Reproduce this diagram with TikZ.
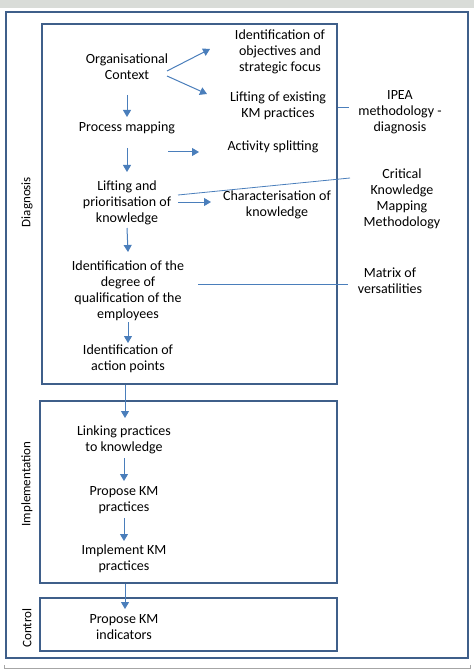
\documentclass[tikz,border=0pt]{standalone}
\usepackage{fontspec}
\setmainfont{Carlito}
\usetikzlibrary{arrows.meta,calc}
\definecolor{boxc}{HTML}{3F5F8A}
\definecolor{arrc}{HTML}{4A7EBB}
\definecolor{band}{HTML}{D9DCD8}
\begin{document}
\begin{tikzpicture}[x=1pt,y=-1pt,
  txt/.style={align=center,inner sep=0pt,font=\fontsize{14}{16}\selectfont,text=black},
  lab/.style={inner sep=0pt,font=\fontsize{13}{16}\selectfont,rotate=90,text=black},
  frame/.style={draw=boxc,line width=2.3pt,inner sep=0pt},
  arr/.style={draw=arrc,line width=1pt,-{Triangle[length=7pt,width=8pt]}},
  lnk/.style={draw=arrc,line width=0.8pt}]
\useasboundingbox (0,0) rectangle (474,671);
\fill[band] (0,0) rectangle (474,8);
\draw[black!35,line width=0.5pt] (4,665) -- (4,668) -- (470,668) -- (470,665);
% frames
\node[frame,minimum width=462pt,minimum height=646pt] (outer) at (237,335) {};
\node[frame,minimum width=295pt,minimum height=360pt] (diag) at (189.5,204) {};
\node[frame,minimum width=297pt,minimum height=182pt] (impl) at (188.5,492) {};
\node[frame,minimum width=297pt,minimum height=53pt] (ctrl) at (188.5,624.5) {};
% phase labels
\node[lab] (ldiag) at (27,202) {Diagnosis};
\node[lab] (limpl) at (27,484) {Implementation};
\node[lab] (lctrl) at (27,628) {Control};
% diagnosis texts
\node[txt] (oc) at (127,67) {Organisational\\Context};
\node[txt] (obj) at (280,52) {Identification of\\objectives and\\strategic focus};
\node[txt] (lift) at (278,106) {Lifting of existing\\KM practices};
\node[txt] (ipea) at (400,112) {IPEA\\methodology -\\diagnosis};
\node[txt] (pm) at (127,128) {Process mapping};
\node[txt] (act) at (273,147) {Activity splitting};
\node[txt] (lap) at (127,203) {Lifting and\\prioritisation of\\knowledge};
\node[txt] (char) at (277,205) {Characterisation of\\knowledge};
\node[txt] (ckm) at (402,199) {Critical\\Knowledge\\Mapping\\Methodology};
\node[txt] (deg) at (128,291) {Identification of the\\degree of\\qualification of the\\employees};
\node[txt] (mat) at (390,281) {Matrix of\\versatilities};
\node[txt] (ap) at (128,359) {Identification of\\action points};
% implementation / control texts
\node[txt] (link) at (124,440) {Linking practices\\to knowledge};
\node[txt] (prop) at (124,500) {Propose KM\\practices};
\node[txt] (implkm) at (124,559) {Implement KM\\practices};
\node[txt] (ind) at (124,627) {Propose KM\\indicators};
% arrows
\draw[arr] ($(oc.center)+(40,4)$) -- ($(obj.center)+(-70,-3)$);
\draw[arr] ($(oc.center)+(40,9)$) -- ($(lift.center)+(-71,-12)$);
\draw[arr] ($(oc.center)+(0,28)$) -- ($(pm.center)+(0,-11)$);
\draw[arr] ($(pm.center)+(0,20)$) -- ($(lap.center)+(0,-31)$);
\draw[arr] ($(act.center)+(-105,5)$) -- ($(act.center)+(-74,5)$);
\draw[arr] ($(lap.center)+(51,-1)$) -- ($(char.center)+(-66,-3)$);
\draw[lnk] ($(lap.center)+(51,-8)$) -- ($(ckm.center)+(-52,-21)$);
\draw[lnk] (diag.east |- ipea.center) ++(0,-5) -- ($(ipea.center)+(-51,-5)$);
\draw[arr] ($(lap.center)+(0,25)$) -- ($(deg.center)+(0,-39)$);
\draw[lnk] ($(deg.center)+(70,-7)$) -- ($(mat.center)+(-42,3)$);
\draw[arr] ($(deg.center)+(0,31)$) -- ($(ap.center)+(0,-16)$);
\draw[arr] (diag.south -| link.center) ++(1,0) -- ($(link.center)+(1,-22)$);
\draw[arr] ($(link.center)+(0,18)$) -- ($(prop.center)+(0,-19)$);
\draw[arr] ($(prop.center)+(0,18)$) -- ($(implkm.center)+(0,-18)$);
\draw[arr] (impl.south -| ind.center) ++(1,0) -- ($(ind.center)+(1,-18)$);
\end{tikzpicture}
\end{document}
